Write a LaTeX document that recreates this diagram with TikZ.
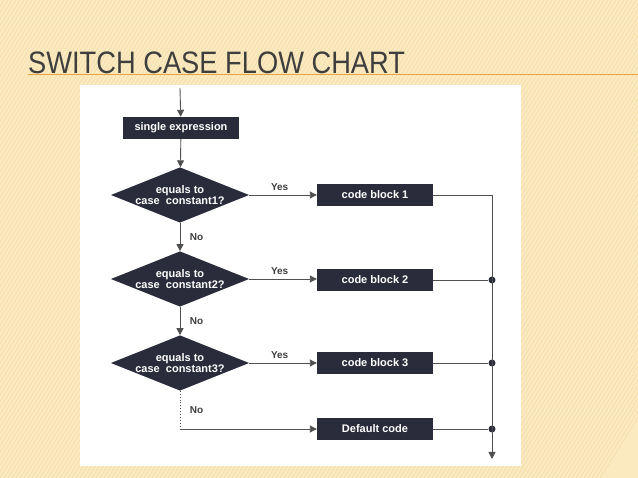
\documentclass[tikz,border=0pt]{standalone}
\usepackage{fontspec}
\setmainfont{Liberation Sans}
\usetikzlibrary{shapes.geometric,arrows.meta}
\definecolor{bg}{HTML}{FBE9C0}
\definecolor{stripe}{HTML}{F3DDA8}
\definecolor{boxc}{HTML}{2A2C3B}
\definecolor{linec}{HTML}{505050}
\definecolor{titlec}{HTML}{3E3E3E}
\definecolor{orangel}{HTML}{E8A33A}
\begin{document}
\begin{tikzpicture}[x=1pt,y=-1pt,
  blk/.style={draw=none,fill=boxc,text=white,font=\bfseries\fontsize{11}{13}\selectfont,minimum width=116pt,minimum height=22pt,inner sep=0pt},
  dia/.style={diamond,fill=boxc,text=white,font=\bfseries\fontsize{11}{11.5}\selectfont,align=center,minimum width=135pt,minimum height=53pt,inner sep=0pt,aspect=2.5},
  ln/.style={draw=linec,line width=0.9pt},
  arr/.style={ln,-{Triangle[length=7pt,width=7pt]}},
  lab/.style={font=\bfseries\fontsize{10}{12}\selectfont,text=titlec},
  dot/.style={circle,fill=boxc,inner sep=0pt,minimum size=7pt}]
\useasboundingbox (0,0) rectangle (638,478);
\fill[bg] (0,0) rectangle (638,478);
\foreach \i in {0,4,...,900} \draw[stripe,line width=0.6pt] (\i-300,478) -- (\i,0);
\fill[white] (80,85) rectangle (521,466);
\draw[orangel,line width=0.8pt] (28,74) -- (638,74);
\node[anchor=base west,text=titlec,font=\fontsize{31}{34}\selectfont,inner sep=0pt,xscale=0.88] (title) at (28,74) {SWITCH CASE FLOW CHART};
\coordinate (top) at (180,88);
\node[blk] (se) at (181,128) {single expression};
\node[dia] (d1) at (180,195) {equals to\\case\ \ constant1?};
\node[dia] (d2) at (180,279) {equals to\\case\ \ constant2?};
\node[dia] (d3) at (180,363) {equals to\\case\ \ constant3?};
\node[blk] (c1) at (375,195) {code block 1};
\node[blk] (c2) at (375,280) {code block 2};
\node[blk] (c3) at (375,363) {code block 3};
\node[blk] (c4) at (375,429) {Default code};
\node[dot] (p2) at (492,280) {};
\node[dot] (p3) at (492,363) {};
\node[dot] (p4) at (492,429) {};
\coordinate (r1) at (492,195);
\coordinate (bot) at (492,459);
\coordinate (corner) at (180,429);
\draw[arr] (top) -- (se);
\draw[arr] (se) -- (d1);
\draw[arr] (d1) -- node[lab,right=6pt]{No} (d2);
\draw[arr] (d2) -- node[lab,right=6pt]{No} (d3);
\draw[arr] (d1) -- node[lab,above=1pt,pos=0.45]{Yes} (c1);
\draw[arr] (d2.east) -- node[lab,above=1pt,pos=0.45]{Yes} (c2.west|-d2.east);
\draw[arr] (d3) -- node[lab,above=1pt,pos=0.45]{Yes} (c3);
\draw[ln,dotted] (d3) -- node[lab,right=6pt,pos=0.5]{No} (corner);
\draw[arr] (corner) -- (c4);
\draw[ln] (c1) -- (r1);
\draw[ln] (c2) -- (p2);
\draw[ln] (c3) -- (p3);
\draw[ln] (c4) -- (p4);
\draw[arr] (r1) -- (bot);
\end{tikzpicture}
\end{document}
